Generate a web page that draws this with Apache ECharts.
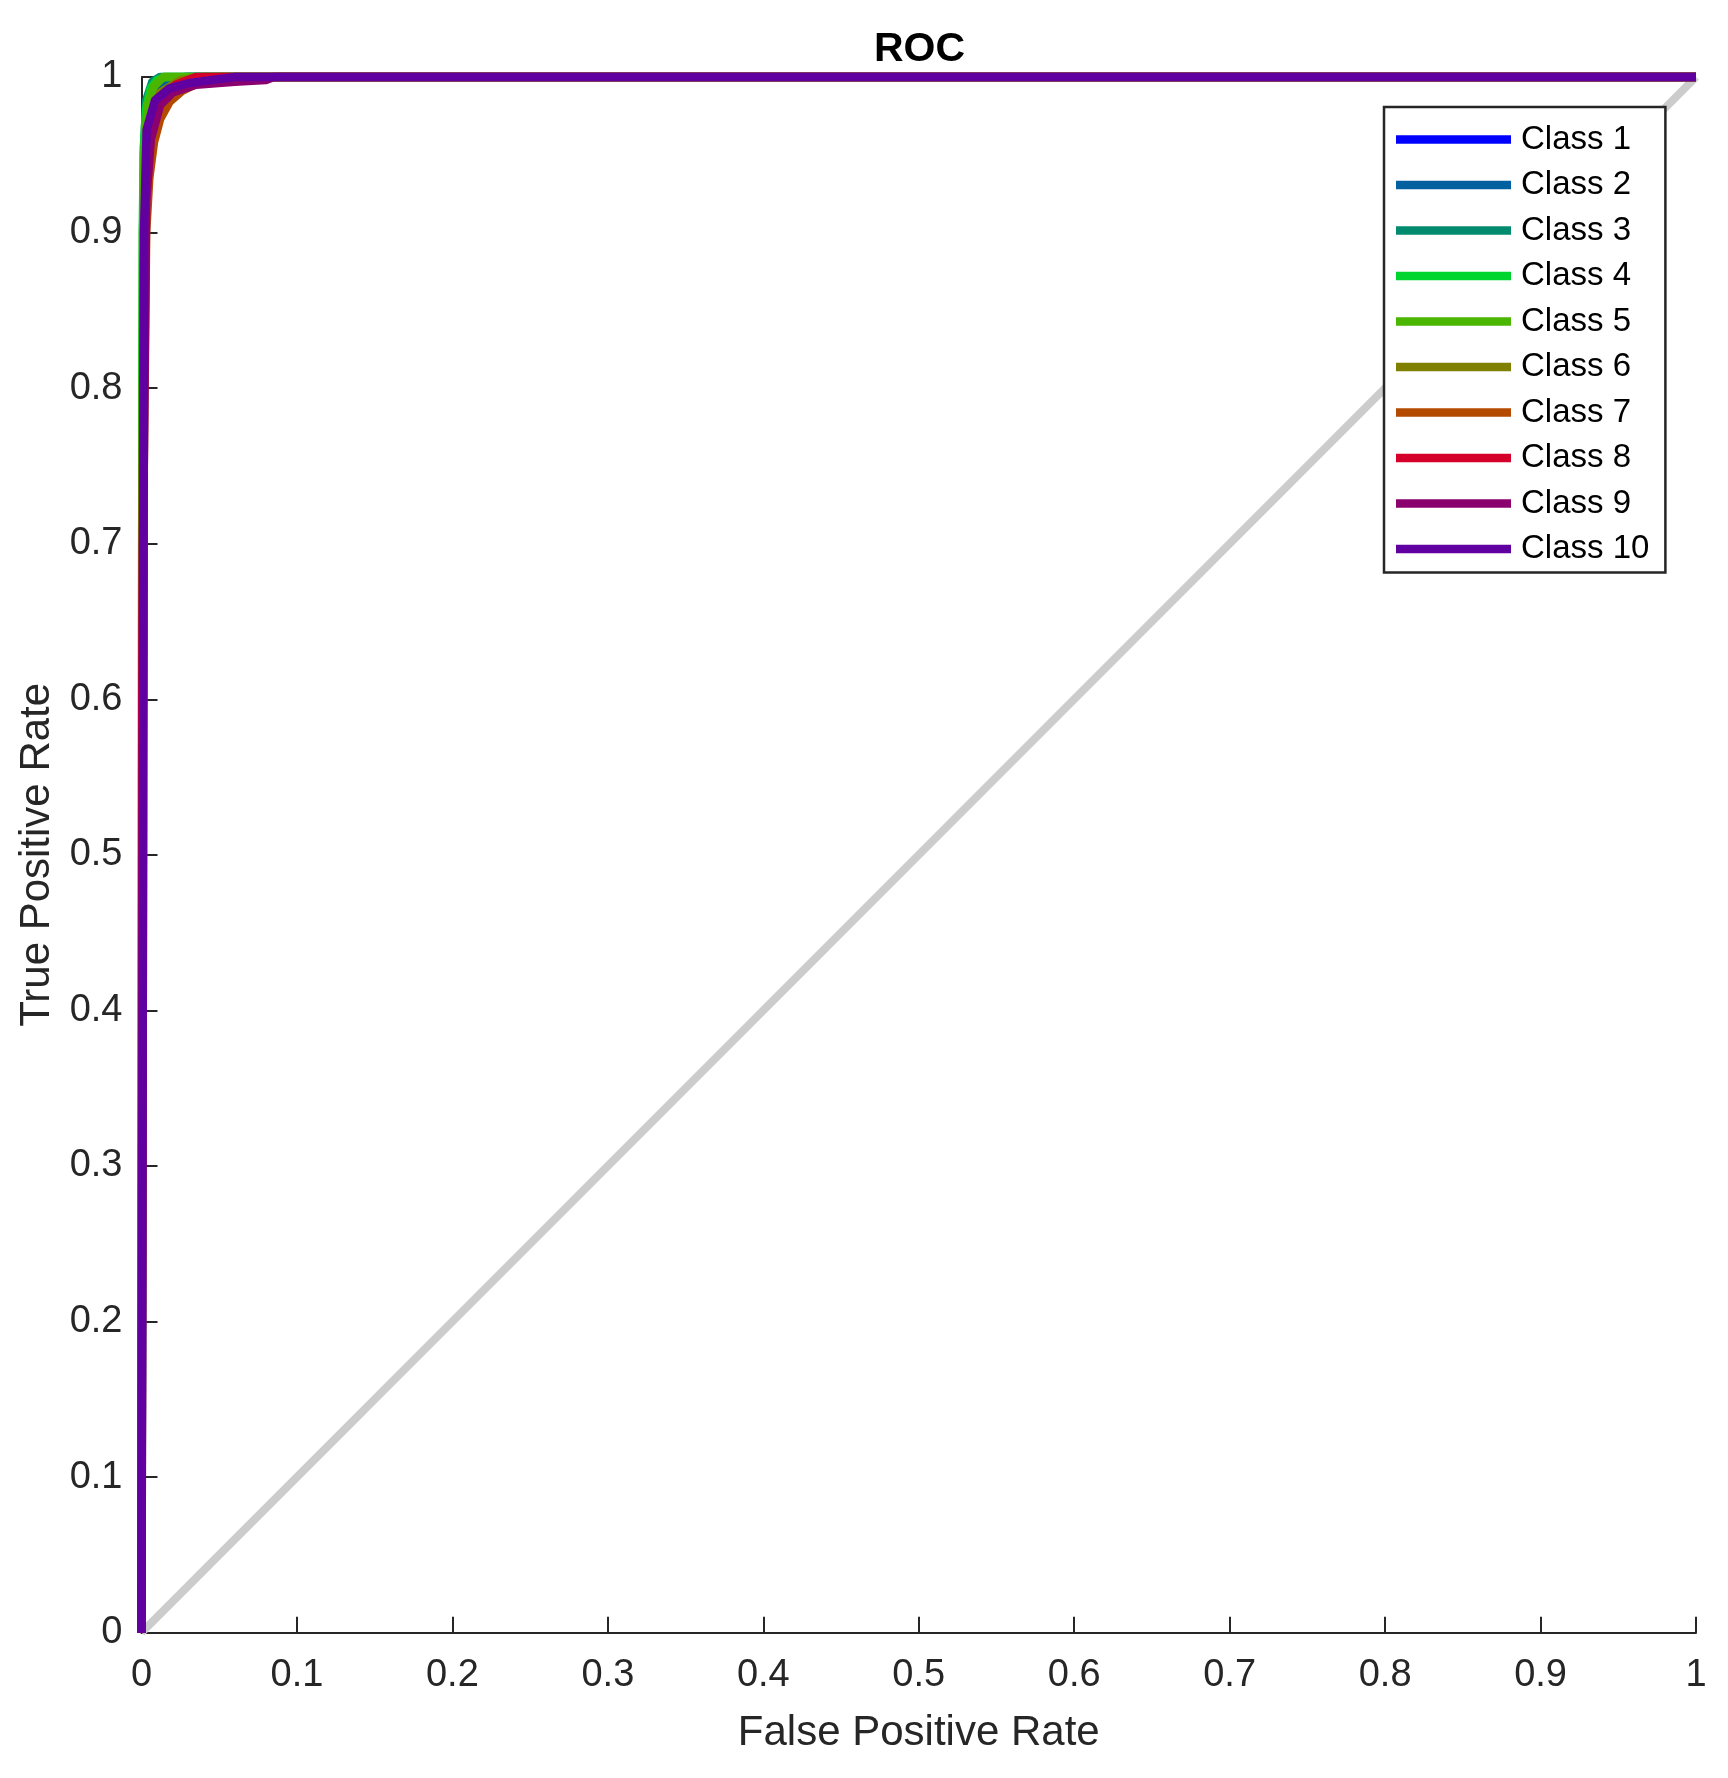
<!DOCTYPE html>
<html>
<head>
<meta charset="utf-8">
<script src="https://cdn.jsdelivr.net/npm/echarts@6/dist/echarts.min.js"></script>
<style>
html,body{margin:0;padding:0;background:#fff;}
#chart{width:1728px;height:1778px;}
</style>
</head>
<body>
<div id="chart"></div>
<script>
const classNames = ['Class 1','Class 2','Class 3','Class 4','Class 5','Class 6','Class 7','Class 8','Class 9','Class 10'];
const classColors = ['#0000FF','#0060A0','#008B6F','#00D42E','#4AB600','#808000','#B34A00','#D4002B','#8B006F','#6000A0'];
const xTicks = [0,0.1,0.2,0.3,0.4,0.5,0.6,0.7,0.8,0.9,1];
const yTicks = [0,0.1,0.2,0.3,0.4,0.5,0.6,0.7,0.8,0.9,1];
const chanceLine = [[0,0],[1,1]];
const roc1 = [[0,0],[0.001,0.7],[0.002,0.93],[0.004,0.975],[0.008,0.99],[0.015,0.997],[0.03,1],[1,1]];
const roc2 = [[0,0],[0.001,0.72],[0.002,0.935],[0.004,0.977],[0.008,0.991],[0.015,0.997],[0.028,1],[1,1]];
const roc3 = [[0,0],[0.0008,0.8],[0.0015,0.95],[0.003,0.985],[0.007,0.997],[0.012,1],[1,1]];
const roc4 = [[0,0],[0.0003,0.64],[0.0008,0.9],[0.0015,0.955],[0.003,0.98],[0.006,0.993],[0.01,0.998],[0.015,1],[1,1]];
const roc5 = [[0,0],[0.0005,0.65],[0.001,0.9],[0.002,0.955],[0.004,0.982],[0.008,0.994],[0.014,1],[1,1]];
const roc6 = [[0,0],[0.001,0.8],[0.003,0.95],[0.006,0.975],[0.012,0.99],[0.025,0.998],[0.04,1],[1,1]];
const roc7 = [[0,0],[0.0015,0.75],[0.003,0.9],[0.005,0.935],[0.008,0.958],[0.012,0.973],[0.018,0.984],[0.026,0.991],[0.036,0.996],[0.05,1],[1,1]];
const roc8 = [[0,0],[0.0005,0.6],[0.0015,0.88],[0.003,0.94],[0.006,0.97],[0.012,0.987],[0.022,0.995],[0.035,1],[1,1]];
const roc9 = [[0,0],[0.001,0.7],[0.003,0.92],[0.006,0.96],[0.012,0.982],[0.02,0.99],[0.035,0.995],[0.06,0.997],[0.08,0.998],[0.085,1],[1,1]];
const roc10 = [[0,0],[0.001,0.5],[0.0016,0.9],[0.0033,0.966],[0.0087,0.985],[0.018,0.9927],[0.03,0.996],[0.06,1],[1,1]];
const rocData = [roc1,roc2,roc3,roc4,roc5,roc6,roc7,roc8,roc9,roc10];

const chart = echarts.init(document.getElementById('chart'), null, {renderer:'canvas'});
const font = 'Liberation Sans, Arial, Helvetica, sans-serif';

const series = [{
  name: 'chance',
  type: 'line',
  data: chanceLine,
  showSymbol: false,
  silent: true,
  clip: false,
  lineStyle: {color:'#CCCCCC', width: 8, cap:'butt'},
  z: 1
}];
classNames.forEach((n,i)=>{
  series.push({
    name: n,
    type: 'line',
    data: rocData[i],
    showSymbol: false,
    clip: false,
    color: classColors[i],
    lineStyle: {color: classColors[i], width: 8.5, cap:'butt', join:'round'},
    z: 2 + i
  });
});

chart.setOption({
  animation: false,
  backgroundColor: '#ffffff',
  title: {
    text: 'ROC',
    left: 869,
    top: 24,
    textStyle: {fontFamily: font, fontSize: 41, fontWeight: 'bold', color: '#000'}
  },
  grid: {left: 141.5, right: 32, top: 77, bottom: 145.3, containLabel: false},
  legend: {
    data: classNames,
    orient: 'vertical',
    left: 1384,
    top: 107,
    padding: [14.5, 16, 5.5, 12],
    itemGap: 9.5,
    itemWidth: 115,
    itemHeight: 8.5,
    icon: 'rect',
    backgroundColor: '#ffffff',
    borderColor: '#262626',
    borderWidth: 2.5,
    borderRadius: 0,
    selectedMode: false,
    textStyle: {fontFamily: font, fontSize: 33, color: '#000', lineHeight: 36, padding: [0,0,0,5]},
    z: 10
  },
  xAxis: {
    type: 'value',
    min: 0, max: 1, interval: 0.1,
    name: 'False Positive Rate',
    nameLocation: 'middle',
    nameGap: 80,
    nameTextStyle: {fontFamily: font, fontSize: 42, color: '#262626'},
    axisLine: {show: true, lineStyle: {color:'#262626', width: 2}},
    axisTick: {show: true, inside: true, length: 16, lineStyle: {color:'#262626', width: 2}},
    axisLabel: {fontFamily: font, fontSize: 38, color: '#262626', margin: 24,
      formatter: v => { const t = xTicks.find(k => Math.abs(k - v) < 1e-9); return t === undefined ? '' : String(t); }},
    splitLine: {show: false}
  },
  yAxis: {
    type: 'value',
    min: 0, max: 1, interval: 0.1,
    name: 'True Positive Rate',
    nameLocation: 'middle',
    nameGap: 80,
    nameTextStyle: {fontFamily: font, fontSize: 42, color: '#262626'},
    axisLine: {show: true, lineStyle: {color:'#262626', width: 2}},
    axisTick: {show: true, inside: true, length: 16, lineStyle: {color:'#262626', width: 2}},
    axisLabel: {fontFamily: font, fontSize: 38, color: '#262626', margin: 19,
      formatter: v => { const t = yTicks.find(k => Math.abs(k - v) < 1e-9); return t === undefined ? '' : String(t); }},
    splitLine: {show: false}
  },
  series: series
});
</script>
</body>
</html>
